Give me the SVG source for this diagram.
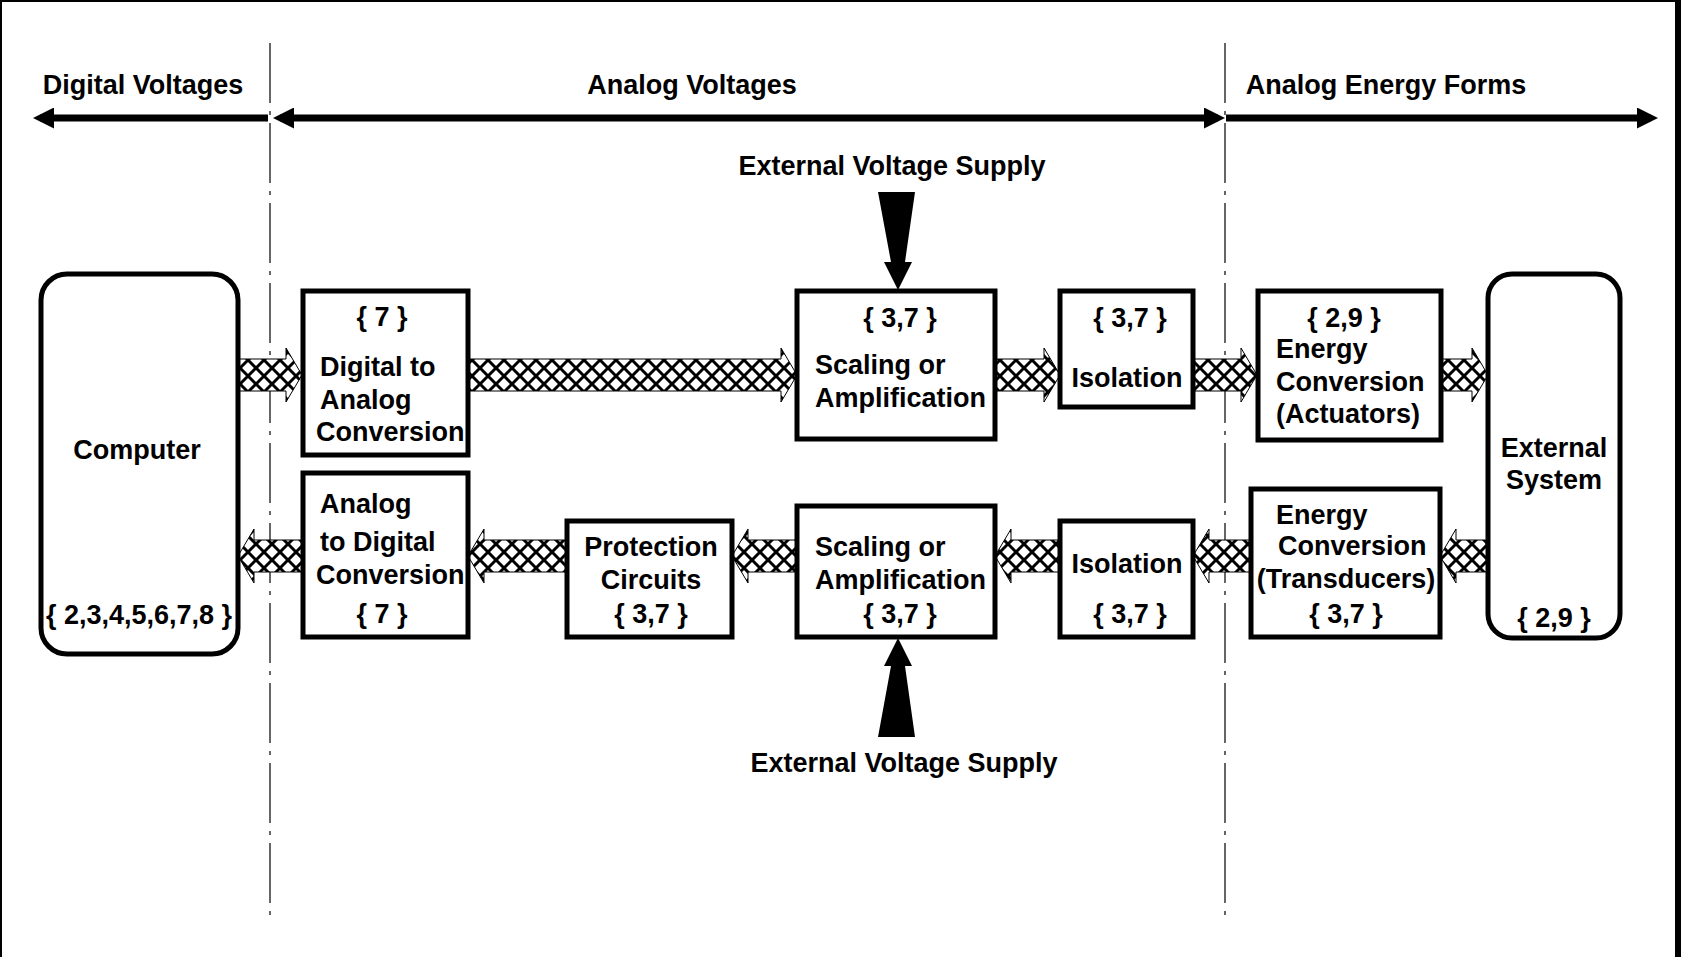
<svg xmlns="http://www.w3.org/2000/svg" width="1696" height="957" viewBox="0 0 1696 957">
<defs>
<style>
text{font-family:"Liberation Sans",Arial,sans-serif;font-weight:bold;font-size:27px;fill:#000}
.m{text-anchor:middle}
.box{fill:#fff;stroke:#000;stroke-width:5}
.dash{stroke:#000;stroke-width:1.2;stroke-dasharray:60,8,4,8}
.ha{fill:url(#hatch);stroke:#000;stroke-width:1}
</style>
<pattern id="hatch" width="16" height="16" patternUnits="userSpaceOnUse">
<rect width="16" height="16" fill="#fff"/>
<path d="M-4,4 L4,-4 M0,16 L16,0 M12,20 L20,12 M-4,12 L4,20 M0,0 L16,16 M12,-4 L20,4" stroke="#000" stroke-width="3"/>
</pattern>
<marker id="ah" markerWidth="3" markerHeight="3" refX="2" refY="1.5" orient="auto-start-reverse" markerUnits="strokeWidth"><path d="M0,0 L3,1.5 L0,3 z" fill="#000"/></marker>
</defs>
<rect x="1" y="1" width="1677" height="960" fill="#fff" stroke="#000" stroke-width="2"/>
<line x1="1678" y1="0" x2="1678" y2="957" stroke="#000" stroke-width="6"/>
<g id="dividers">
<line class="dash" x1="270" y1="43" x2="270" y2="917"/>
<line class="dash" x1="1225" y1="43" x2="1225" y2="917"/>
</g>
<g id="headers">
<line x1="40" y1="118" x2="268" y2="118" stroke="#000" stroke-width="7" marker-start="url(#ah)"/>
<line x1="280" y1="118" x2="1218" y2="118" stroke="#000" stroke-width="7" marker-start="url(#ah)" marker-end="url(#ah)"/>
<line x1="1226" y1="118" x2="1651" y2="118" stroke="#000" stroke-width="7" marker-end="url(#ah)"/>
<text class="m" x="143" y="94">Digital Voltages</text>
<text class="m" x="692" y="94">Analog Voltages</text>
<text class="m" x="1386" y="94">Analog Energy Forms</text>
</g>
<g id="connectors">
<polygon class="ha" points="238,359 286,359 286,348 302,375 286,402 286,391 238,391"/>
<polygon class="ha" points="469,359 781,359 781,348 797,375 781,402 781,391 469,391"/>
<polygon class="ha" points="995,359 1044,359 1044,348 1060,375 1044,402 1044,391 995,391"/>
<polygon class="ha" points="1193,359 1241,359 1241,348 1257,375 1241,402 1241,391 1193,391"/>
<polygon class="ha" points="1441,359 1472,359 1472,348 1488,375 1472,402 1472,391 1441,391"/>
<polygon class="ha" points="1488,540 1456,540 1456,529 1440,556 1456,583 1456,572 1488,572"/>
<polygon class="ha" points="1250,540 1209,540 1209,529 1193,556 1209,583 1209,572 1250,572"/>
<polygon class="ha" points="1060,540 1011,540 1011,529 995,556 1011,583 1011,572 1060,572"/>
<polygon class="ha" points="797,540 748,540 748,529 732,556 748,583 748,572 797,572"/>
<polygon class="ha" points="567,540 484,540 484,529 468,556 484,583 484,572 567,572"/>
<polygon class="ha" points="303,540 254,540 254,529 238,556 254,583 254,572 303,572"/>
<polygon points="878,192 915,192 905,262 912,262 898,290 884,262 891,262" fill="#000"/>
<polygon points="878,737 915,737 905,666 912,666 898,638 884,666 891,666" fill="#000"/>
</g>
<g id="supply-top"><text class="m" x="892" y="175">External Voltage Supply</text></g>
<g id="supply-bottom"><text class="m" x="904" y="772">External Voltage Supply</text></g>
<g id="computer">
<rect class="box" x="41" y="274" width="197" height="380" rx="26"/>
<text class="m" x="137" y="459">Computer</text>
<text class="m" x="139" y="624">{ 2,3,4,5,6,7,8 }</text>
</g>
<g id="external">
<rect class="box" x="1488" y="274" width="132" height="364" rx="24"/>
<text class="m" x="1554" y="457">External</text>
<text class="m" x="1554" y="489">System</text>
<text class="m" x="1554" y="627">{ 2,9 }</text>
</g>
<g id="dac">
<rect class="box" x="303" y="291" width="165" height="164"/>
<text class="m" x="382" y="326">{ 7 }</text>
<text x="320" y="376">Digital to</text>
<text x="320" y="409">Analog</text>
<text x="316" y="441">Conversion</text>
</g>
<g id="adc">
<rect class="box" x="303" y="473" width="165" height="164"/>
<text x="320" y="513">Analog</text>
<text x="320" y="551">to Digital</text>
<text x="316" y="584">Conversion</text>
<text class="m" x="382" y="623">{ 7 }</text>
</g>
<g id="scaling-top">
<rect class="box" x="797" y="291" width="198" height="148"/>
<text class="m" x="900" y="327">{ 3,7 }</text>
<text x="815" y="374">Scaling or</text>
<text x="815" y="407">Amplification</text>
</g>
<g id="isolation-top">
<rect class="box" x="1060" y="291" width="133" height="116"/>
<text class="m" x="1130" y="327">{ 3,7 }</text>
<text class="m" x="1127" y="387">Isolation</text>
</g>
<g id="actuators">
<rect class="box" x="1258" y="291" width="183" height="149"/>
<text class="m" x="1344" y="327">{ 2,9 }</text>
<text x="1276" y="358">Energy</text>
<text x="1276" y="391">Conversion</text>
<text x="1276" y="423">(Actuators)</text>
</g>
<g id="protection">
<rect class="box" x="567" y="521" width="165" height="116"/>
<text class="m" x="651" y="556">Protection</text>
<text class="m" x="651" y="589">Circuits</text>
<text class="m" x="651" y="623">{ 3,7 }</text>
</g>
<g id="scaling-bottom">
<rect class="box" x="797" y="506" width="198" height="131"/>
<text x="815" y="556">Scaling or</text>
<text x="815" y="589">Amplification</text>
<text class="m" x="900" y="623">{ 3,7 }</text>
</g>
<g id="isolation-bottom">
<rect class="box" x="1060" y="521" width="133" height="116"/>
<text class="m" x="1127" y="573">Isolation</text>
<text class="m" x="1130" y="623">{ 3,7 }</text>
</g>
<g id="transducers">
<rect class="box" x="1251" y="489" width="189" height="148"/>
<text x="1276" y="524">Energy</text>
<text x="1278" y="555">Conversion</text>
<text class="m" x="1346" y="588">(Transducers)</text>
<text class="m" x="1346" y="623">{ 3,7 }</text>
</g>
</svg>
